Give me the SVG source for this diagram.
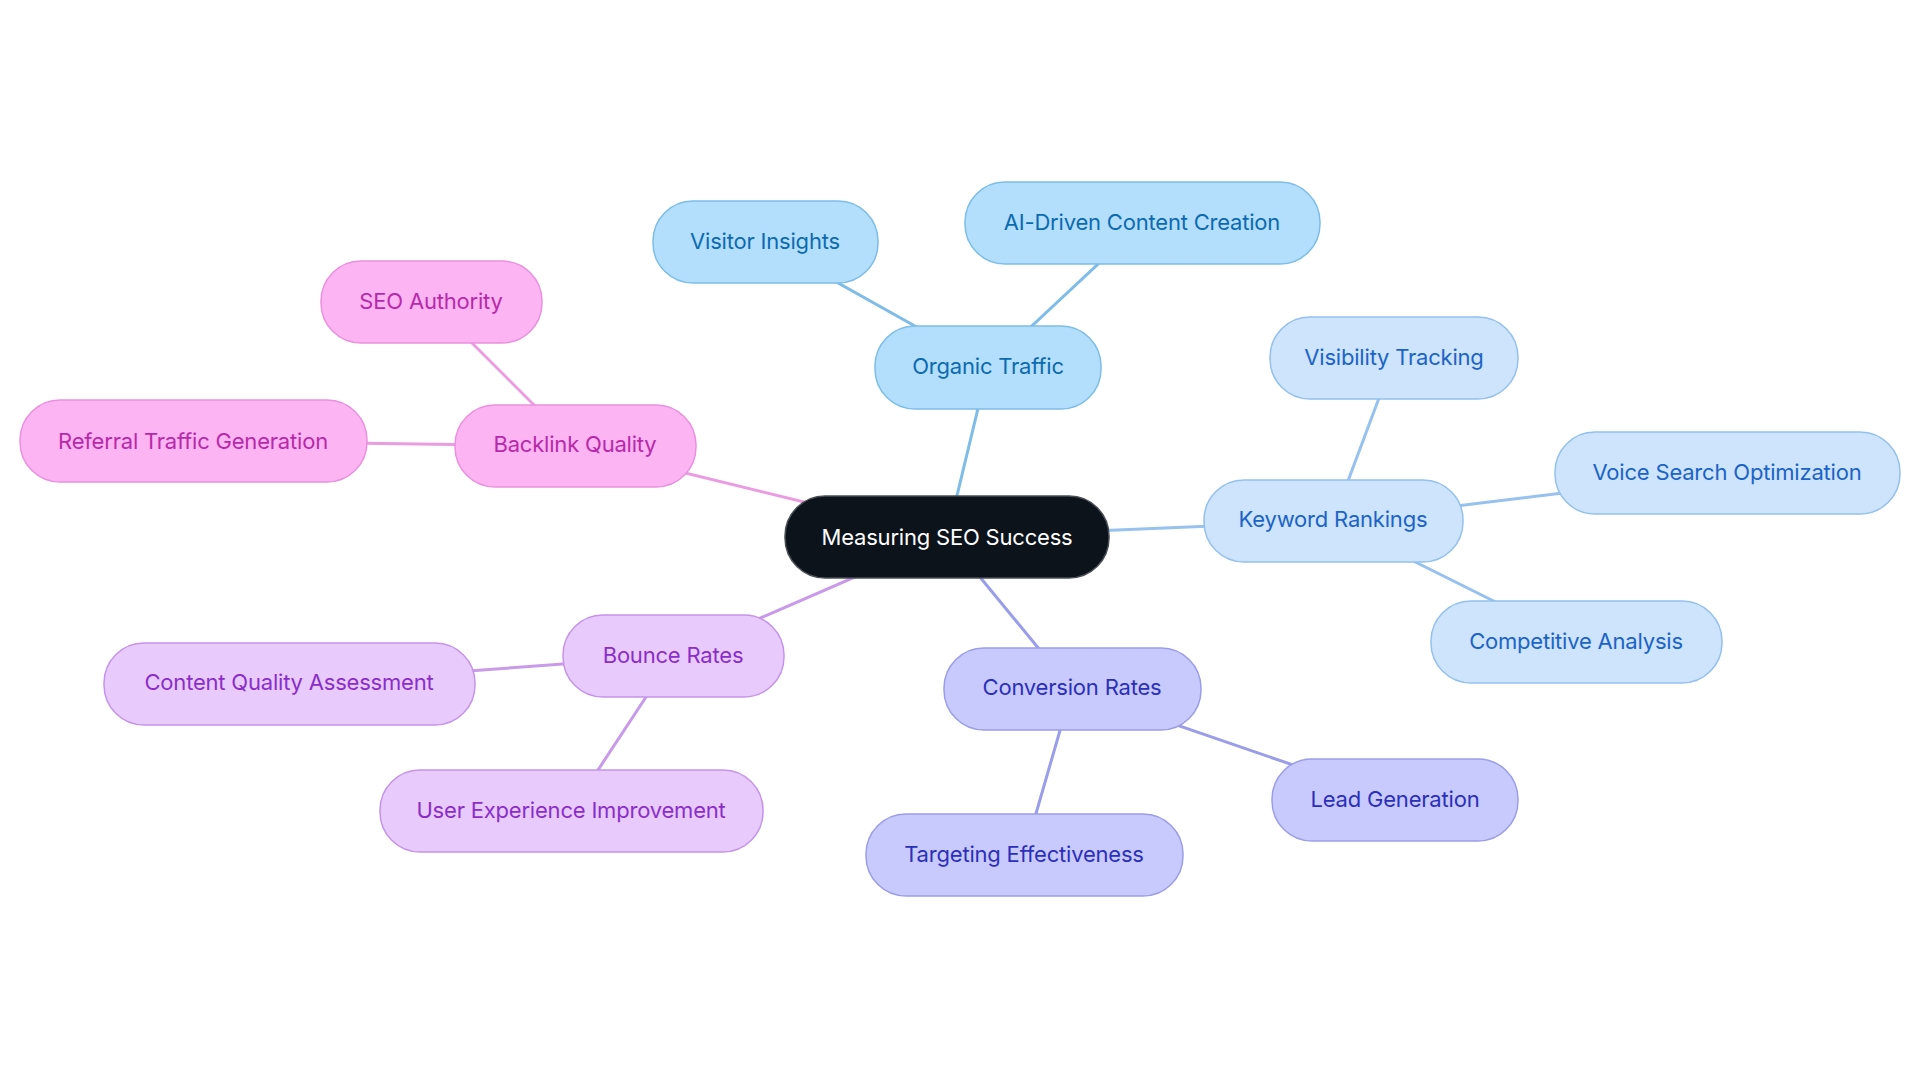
<svg xmlns="http://www.w3.org/2000/svg" width="1920" height="1083" viewBox="0 0 1920 1083">
<style>
text{font-family:Inter,"Noto Sans","Liberation Sans",sans-serif;font-size:22px;text-anchor:middle;letter-spacing:-0.2px}
.c line{stroke-width:3;stroke-linecap:round}
.b1 line{stroke:#7ebde7}.b2 line{stroke:#97c1ee}.in line{stroke:#9a9de9}.pu line{stroke:#c999ea}.pk line{stroke:#eb9ce1}
.n1 rect{fill:#b3dffd;stroke:#7cbde9;stroke-width:1.5}.n1 text{fill:#0c6ab0}
.n2 rect{fill:#cde4fc;stroke:#94c0ee;stroke-width:1.5}.n2 text{fill:#1b63c6}
.n3 rect{fill:#c8cafe;stroke:#9a9de8;stroke-width:1.5}.n3 text{fill:#2b2fba}
.n4 rect{fill:#e9cafd;stroke:#c594ea;stroke-width:1.5}.n4 text{fill:#8a2ec9}
.n5 rect{fill:#fdb4f3;stroke:#ea90de;stroke-width:1.5}.n5 text{fill:#b62aa9}
.n0 rect{fill:#0c131b;stroke:#4a4f55;stroke-width:1.5}.n0 text{fill:#ffffff}
</style>
<rect width="1920" height="1083" fill="#ffffff"/>
<g id="connectors" class="c">
<g class="b1">
<line x1="947" y1="537" x2="988" y2="367"/>
<line x1="988" y1="367" x2="765" y2="242"/>
<line x1="988" y1="367" x2="1142" y2="223"/>
</g>
<g class="b2">
<line x1="947" y1="537" x2="1333" y2="521"/>
<line x1="1333" y1="521" x2="1394" y2="358"/>
<line x1="1333" y1="521" x2="1727" y2="473"/>
<line x1="1333" y1="521" x2="1576" y2="642"/>
</g>
<g class="in">
<line x1="947" y1="537" x2="1072" y2="689"/>
<line x1="1072" y1="689" x2="1395" y2="800"/>
<line x1="1072" y1="689" x2="1024" y2="855"/>
</g>
<g class="pu">
<line x1="947" y1="537" x2="673" y2="656"/>
<line x1="673" y1="656" x2="289" y2="684"/>
<line x1="673" y1="656" x2="571" y2="811"/>
</g>
<g class="pk">
<line x1="947" y1="537" x2="575" y2="446"/>
<line x1="575" y1="446" x2="431" y2="302"/>
<line x1="575" y1="446" x2="193" y2="441"/>
</g>
</g>
<g id="center" class="n0"><rect x="785" y="496" width="324" height="82" rx="40"/><text x="947" y="545">Measuring SEO Success</text></g>
<g id="organic-traffic" class="n1"><rect x="875" y="326" width="226" height="83" rx="40"/><text x="988" y="374">Organic Traffic</text></g>
<g id="visitor-insights" class="n1"><rect x="653" y="201" width="225" height="82" rx="40"/><text x="765" y="249">Visitor Insights</text></g>
<g id="ai-driven" class="n1"><rect x="965" y="182" width="355" height="82" rx="40"/><text x="1142" y="230">AI-Driven Content Creation</text></g>
<g id="keyword-rankings" class="n2"><rect x="1204" y="480" width="259" height="82" rx="40"/><text x="1333" y="527">Keyword Rankings</text></g>
<g id="visibility-tracking" class="n2"><rect x="1270" y="317" width="248" height="82" rx="40"/><text x="1394" y="365">Visibility Tracking</text></g>
<g id="voice-search" class="n2"><rect x="1555" y="432" width="345" height="82" rx="40"/><text x="1727" y="480">Voice Search Optimization</text></g>
<g id="competitive-analysis" class="n2"><rect x="1431" y="601" width="291" height="82" rx="40"/><text x="1576" y="649">Competitive Analysis</text></g>
<g id="conversion-rates" class="n3"><rect x="944" y="648" width="257" height="82" rx="40"/><text x="1072" y="695">Conversion Rates</text></g>
<g id="lead-generation" class="n3"><rect x="1272" y="759" width="246" height="82" rx="40"/><text x="1395" y="807">Lead Generation</text></g>
<g id="targeting-effectiveness" class="n3"><rect x="866" y="814" width="317" height="82" rx="40"/><text x="1024" y="862">Targeting Effectiveness</text></g>
<g id="bounce-rates" class="n4"><rect x="563" y="615" width="221" height="82" rx="40"/><text x="673" y="663">Bounce Rates</text></g>
<g id="content-quality" class="n4"><rect x="104" y="643" width="371" height="82" rx="40"/><text x="289" y="690">Content Quality Assessment</text></g>
<g id="user-experience" class="n4"><rect x="380" y="770" width="383" height="82" rx="40"/><text x="571" y="818">User Experience Improvement</text></g>
<g id="backlink-quality" class="n5"><rect x="455" y="405" width="241" height="82" rx="40"/><text x="575" y="452">Backlink Quality</text></g>
<g id="seo-authority" class="n5"><rect x="321" y="261" width="221" height="82" rx="40"/><text x="431" y="309">SEO Authority</text></g>
<g id="referral-traffic" class="n5"><rect x="20" y="400" width="347" height="82" rx="40"/><text x="193" y="449">Referral Traffic Generation</text></g>
</svg>
